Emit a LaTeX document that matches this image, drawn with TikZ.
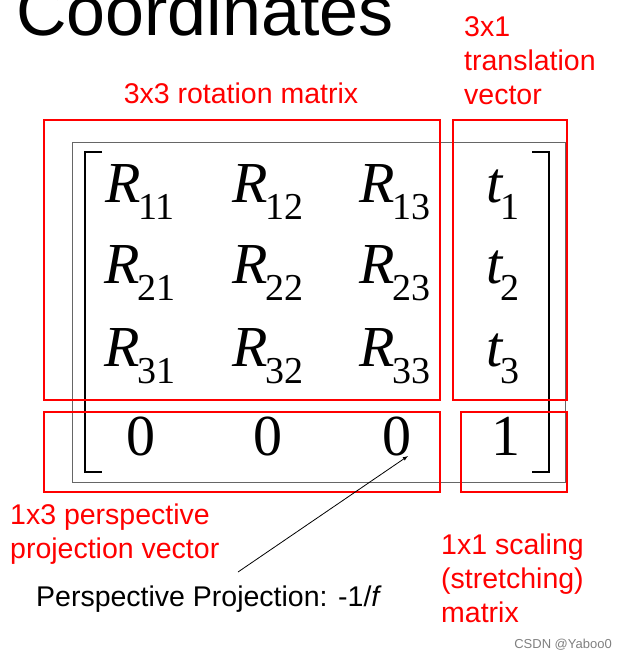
\documentclass[tikz,border=0pt]{standalone}
\usepackage{fontspec}
\setmainfont{Liberation Serif}
\newfontfamily\sans{Liberation Sans}
\newcommand{\ent}[2]{\textit{#1}\kern-0.04em\raisebox{-0.3em}{\fontsize{38}{38}\selectfont #2}}
\begin{document}
\begin{tikzpicture}[x=1pt,y=-1pt,
  redbox/.style={draw=red, line width=2.8pt},
  ent/.style={font=\fontsize{58}{58}\selectfont, inner sep=0pt, anchor=base},
  lbl/.style={font=\sans\fontsize{28.5}{34}\selectfont, text=red, inner sep=0pt, align=left},
  brk/.style={line width=2pt}]
\useasboundingbox (0,0) rectangle (625,658);
\node[font=\sans\fontsize{70}{70}\selectfont, anchor=base west, inner sep=0pt] (title) at (16,36) {Coordinates};
\draw[gray!80!black, line width=0.8pt] (72,142) rectangle (565,482);
\draw[brk] (102,152) -- (85,152) -- (85,472) -- (102,472);
\draw[brk] (532,152) -- (549,152) -- (549,472) -- (532,472);
\foreach \r/\y in {1/202, 2/283, 3/366}{
  \node[ent] (r\r1) at (140,\y) {\ent{R}{\r1}};
  \node[ent] (r\r2) at (268,\y) {\ent{R}{\r2}};
  \node[ent] (r\r3) at (395,\y) {\ent{R}{\r3}};
  \node[ent] (t\r) at (503,\y) {\ent{t}{\r}};
}
\node[ent] (z1) at (141,455) {0};
\node[ent] (z2) at (268,455) {0};
\node[ent] (z3) at (397,455) {0};
\node[ent] (one) at (506,455) {1};
\draw[redbox] (44,120) rectangle (440,400);
\draw[redbox] (453,120) rectangle (567,400);
\draw[redbox] (44,412) rectangle (440,492);
\draw[redbox] (461,412) rectangle (567,492);
\node[lbl, anchor=base] (l1) at (241,103) {3x3 rotation matrix};
\node[lbl, anchor=north west] (l2) at (464,16) {3x1\\translation\\vector};
\node[lbl, anchor=north west] (l3) at (10,504) {1x3 perspective\\projection vector};
\node[lbl, anchor=north west] (l4) at (441,534) {1x1 scaling\\(stretching)\\matrix};
\node[font=\sans\fontsize{28.5}{34}\selectfont, anchor=base west, inner sep=0pt] (pp) at (36,606) {Perspective Projection: -1/\textit{f}};
\coordinate (a0) at (238,572);
\coordinate (a1) at (408,456);
\draw[-{latex}, line width=0.8pt] (a0) -- (a1);
\node[font=\sans\fontsize{13}{13}\selectfont, text=gray, anchor=base east, inner sep=0pt] (wm) at (612,648) {CSDN @Yaboo0};
\end{tikzpicture}
\end{document}
